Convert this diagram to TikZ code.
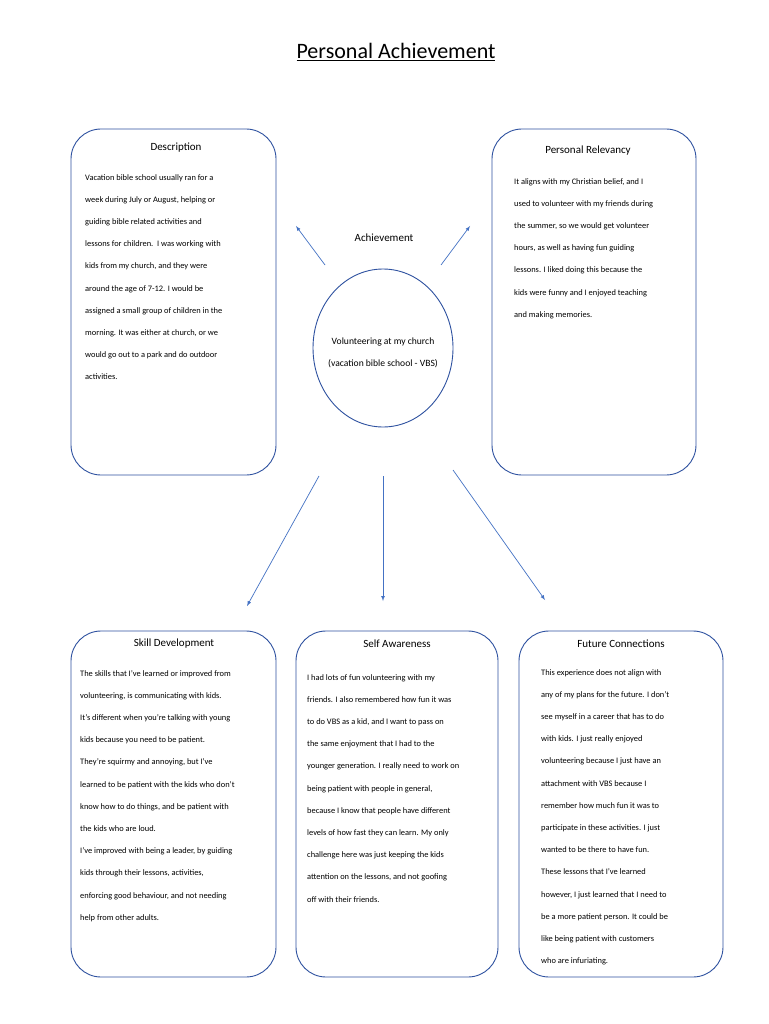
\documentclass[tikz,border=0pt]{standalone}
\usepackage{fontspec}
\setmainfont{Carlito}
\usetikzlibrary{shapes.geometric}
\definecolor{bx}{RGB}{47,82,160}
\definecolor{ar}{RGB}{68,114,196}
\begin{document}
\begin{tikzpicture}[x=1pt,y=-1pt,
 box/.style={draw=bx,line width=0.9pt,rounded corners=30pt},
 arr/.style={draw=ar,-latex,line width=0.7pt},
 body/.style={anchor=north west,align=left,inner sep=0pt,font=\fontsize{8.4}{22.2}\selectfont},
 head/.style={font=\fontsize{11}{12}\selectfont}]
\useasboundingbox[fill=white] (0,0) rectangle (768,1024);
\node (title) at (396,52) {\fontsize{22}{24}\selectfont\underline{Personal Achievement}};
\draw[box] (71,129) rectangle (276,475); \node[head] (hd) at (176,148) {Description};
\draw[box] (492,129) rectangle (696,475); \node[head] (hr) at (588,151) {Personal Relevancy};
\draw[box] (71,631) rectangle (276,977); \node[head] (hs) at (174,644) {Skill Development};
\draw[box] (296,631) rectangle (498,977); \node[head] (ha) at (397,644) {Self Awareness};
\draw[box] (519,631) rectangle (723,977); \node[head] (hf) at (621,644) {Future Connections};
\node[draw=bx,line width=0.9pt,ellipse,minimum width=140pt,minimum height=158pt,inner sep=0pt] (c) at (383,348) {};
\node[align=center,font=\fontsize{9.6}{22}\selectfont] (ct) at (383,353) {Volunteering at my church\\(vacation bible school - VBS)};
\node[head] (ach) at (384,238) {Achievement};
\node[body] (bd) at (85,174) {Vacation bible school usually ran for a\\week during July or August, helping or\\guiding bible related activities and\\lessons for children.\ \ I was working with\\kids from my church, and they were\\around the age of 7-12. I would be\\assigned a small group of children in the\\morning. It was either at church, or we\\would go out to a park and do outdoor\\activities.};
\node[body] (br) at (514,178) {It aligns with my Christian belief, and I\\used to volunteer with my friends during\\the summer, so we would get volunteer\\hours, as well as having fun guiding\\lessons. I liked doing this because the\\kids were funny and I enjoyed teaching\\and making memories.};
\node[body] (bs) at (80,670) {The skills that I've learned or improved from\\volunteering, is communicating with kids.\\It's different when you're talking with young\\kids because you need to be patient.\\They're squirmy and annoying, but I've\\learned to be patient with the kids who don't\\know how to do things, and be patient with\\the kids who are loud.\\I've improved with being a leader, by guiding\\kids through their lessons, activities,\\enforcing good behaviour, and not needing\\help from other adults.};
\node[body] (ba) at (307,674) {I had lots of fun volunteering with my\\friends. I also remembered how fun it was\\to do VBS as a kid, and I want to pass on\\the same enjoyment that I had to the\\younger generation. I really need to work on\\being patient with people in general,\\because I know that people have different\\levels of how fast they can learn. My only\\challenge here was just keeping the kids\\attention on the lessons, and not goofing\\off with their friends.};
\node[body] (bf) at (541,669) {This experience does not align with\\any of my plans for the future. I don't\\see myself in a career that has to do\\with kids. I just really enjoyed\\volunteering because I just have an\\attachment with VBS because I\\remember how much fun it was to\\participate in these activities. I just\\wanted to be there to have fun.\\These lessons that I've learned\\however, I just learned that I need to\\be a more patient person. It could be\\like being patient with customers\\who are infuriating.};
\coordinate (a1s) at (325,265); \coordinate (a1e) at (296,226);
\coordinate (a2s) at (441,265); \coordinate (a2e) at (470,226);
\coordinate (a3s) at (319,476); \coordinate (a3e) at (247,606);
\coordinate (a4s) at (383,476); \coordinate (a4e) at (383,601);
\coordinate (a5s) at (453,470); \coordinate (a5e) at (545,600);
\draw[arr] (a1s)--(a1e); \draw[arr] (a2s)--(a2e); \draw[arr] (a3s)--(a3e);
\draw[arr] (a4s)--(a4e); \draw[arr] (a5s)--(a5e);
\end{tikzpicture}
\end{document}
